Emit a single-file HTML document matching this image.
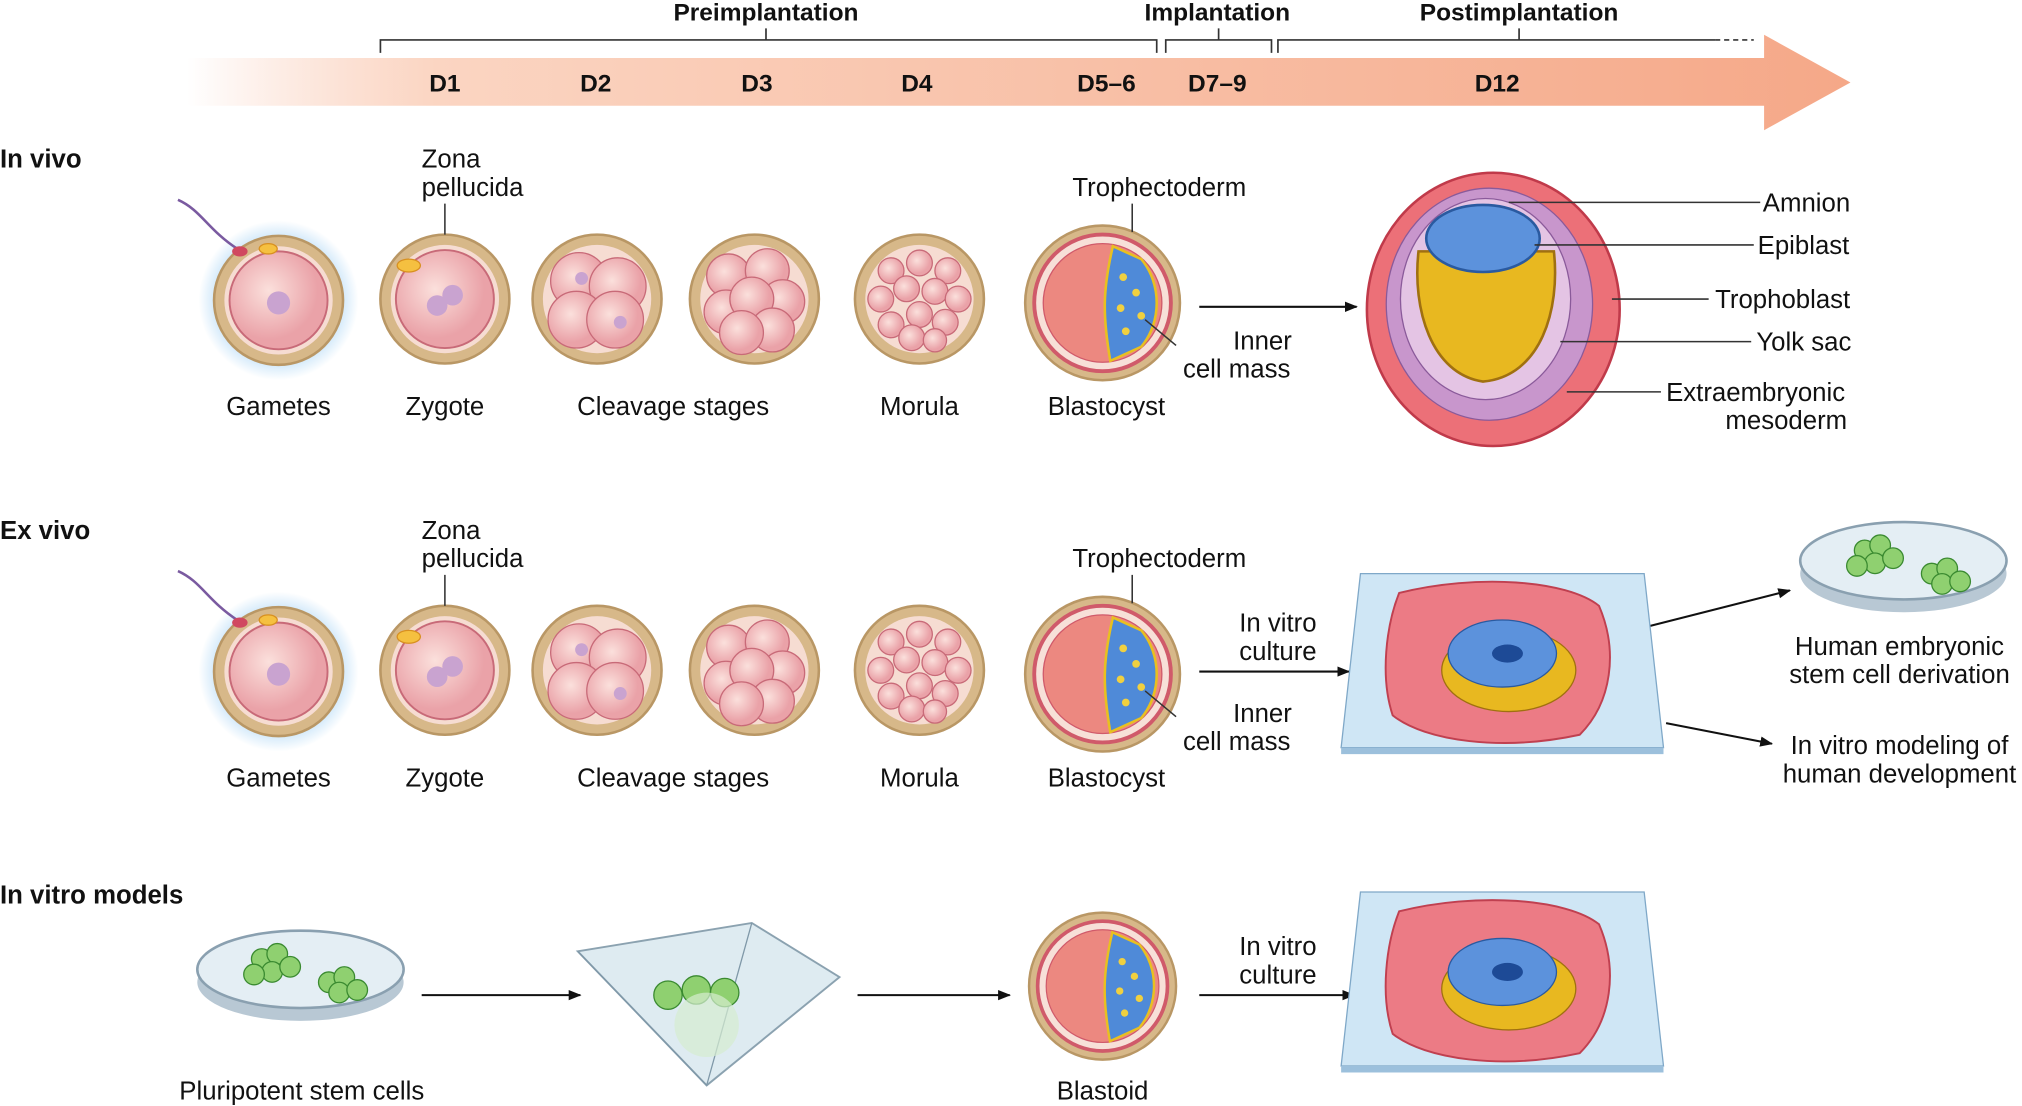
<!DOCTYPE html>
<html><head><meta charset="utf-8"><style>
html,body{margin:0;padding:0;background:#fff}
svg{display:block}
text{font-family:"Liberation Sans",sans-serif;fill:#111}
.b{font-weight:bold}
</style></head><body>
<svg width="2022" height="1106" viewBox="0 0 1568 858" preserveAspectRatio="none" xmlns="http://www.w3.org/2000/svg">
<defs>
<linearGradient id="ar" x1="0" x2="1">
<stop offset="0" stop-color="#f9c9b4" stop-opacity="0"/>
<stop offset="0.15" stop-color="#fbd5c2"/>
<stop offset="1" stop-color="#f5a888"/>
</linearGradient>
<radialGradient id="glow"><stop offset="0.6" stop-color="#a8d4f5"/><stop offset="1" stop-color="#a8d4f5" stop-opacity="0"/></radialGradient>
<radialGradient id="cell" cx="0.4" cy="0.4"><stop offset="0" stop-color="#fbe0dc"/><stop offset="1" stop-color="#eaa2a8"/></radialGradient>
<g id="zona"><circle r="50" fill="#d7b889" stroke="#b99765" stroke-width="2"/><circle r="42" fill="#f6dcd2"/></g>
<g id="gam"><circle r="62" fill="url(#glow)"/><use href="#zona"/><circle r="38" fill="url(#cell)" stroke="#c86a78" stroke-width="1.5"/><circle cx="0" cy="2" r="9" fill="#c9a3d0"/>
<path d="M-78 -78 C-60 -70 -55 -55 -32 -40" stroke="#7a5aa0" stroke-width="2" fill="none"/><ellipse cx="-30" cy="-38" rx="6" ry="4" fill="#d04860"/><ellipse cx="-8" cy="-40" rx="7" ry="4" fill="#f5c040" stroke="#d89020"/></g>
<g id="zyg"><use href="#zona"/><circle r="38" fill="url(#cell)" stroke="#c86a78" stroke-width="1.5"/><circle cx="-6" cy="5" r="8" fill="#c9a3d0"/><circle cx="6" cy="-3" r="8" fill="#c9a3d0"/><ellipse cx="-28" cy="-26" rx="9" ry="5" fill="#f5c040" stroke="#d89020"/></g>
<g id="clv1"><use href="#zona"/><circle cx="-14" cy="-14" r="22" fill="url(#cell)" stroke="#c86a78"/><circle cx="16" cy="-10" r="22" fill="url(#cell)" stroke="#c86a78"/><circle cx="-16" cy="16" r="22" fill="url(#cell)" stroke="#c86a78"/><circle cx="14" cy="16" r="22" fill="url(#cell)" stroke="#c86a78"/><circle cx="-12" cy="-16" r="5" fill="#c9a3d0"/><circle cx="18" cy="18" r="5" fill="#c9a3d0"/></g>
<g id="clv2"><use href="#zona"/><circle cx="-20" cy="-18" r="17" fill="url(#cell)" stroke="#c86a78"/><circle cx="10" cy="-22" r="17" fill="url(#cell)" stroke="#c86a78"/><circle cx="22" cy="2" r="17" fill="url(#cell)" stroke="#c86a78"/><circle cx="-22" cy="10" r="17" fill="url(#cell)" stroke="#c86a78"/><circle cx="-2" cy="0" r="17" fill="url(#cell)" stroke="#c86a78"/><circle cx="14" cy="24" r="17" fill="url(#cell)" stroke="#c86a78"/><circle cx="-10" cy="26" r="17" fill="url(#cell)" stroke="#c86a78"/></g>
<g id="mor"><use href="#zona"/>
<g fill="url(#cell)" stroke="#c86a78"><circle cx="-22" cy="-22" r="10"/><circle cx="0" cy="-28" r="10"/><circle cx="22" cy="-22" r="10"/><circle cx="-30" cy="0" r="10"/><circle cx="-10" cy="-8" r="10"/><circle cx="12" cy="-6" r="10"/><circle cx="30" cy="0" r="10"/><circle cx="-22" cy="20" r="10"/><circle cx="0" cy="12" r="10"/><circle cx="20" cy="18" r="10"/><circle cx="-6" cy="30" r="10"/><circle cx="12" cy="32" r="9"/></g></g>
<g id="bla"><circle r="60" fill="#d7b889" stroke="#b99765" stroke-width="2"/><circle r="53" fill="#f7e0d8" stroke="#d05a6a" stroke-width="3"/><circle r="46" fill="#ec8880" stroke="#d05a6a"/>
<path d="M8 -44 C0 -10 0 10 6 45 L30 34 C46 15 46 -15 30 -34 Z" fill="#4f8ad8" stroke="#e8c020" stroke-width="2"/>
<g fill="#f0d040"><circle cx="16" cy="-20" r="3"/><circle cx="26" cy="-8" r="3"/><circle cx="14" cy="4" r="3"/><circle cx="30" cy="10" r="3"/><circle cx="18" cy="22" r="3"/></g></g>
<g id="plate"><polygon points="-110,-70 110,-70 125,65 -125,65" fill="#cfe6f5" stroke="#7fa8c8"/><polygon points="-125,65 125,65 125,70 -125,70" fill="#9cc0dc"/>
<path d="M-80 -55 C-20 -70 50 -65 75 -45 C90 -10 85 30 60 55 C0 68 -60 60 -85 40 C-95 10 -90 -30 -80 -55Z" fill="#ec7b85" stroke="#c04050" stroke-width="1.5"/>
<ellipse cx="5" cy="5" rx="52" ry="32" fill="#e8b820" stroke="#a07010"/>
<ellipse cx="0" cy="-8" rx="42" ry="26" fill="#5c92dc" stroke="#2a5aa0"/><ellipse cx="4" cy="-8" rx="12" ry="7" fill="#1d4a96"/></g>
<g id="dish"><ellipse cx="0" cy="10" rx="80" ry="30" fill="#b8c8d4"/><ellipse cx="0" cy="0" rx="80" ry="30" fill="#e4eef4" stroke="#8aa0b0" stroke-width="2"/>
<g fill="#8fd070" stroke="#3a8a30"><circle cx="-30" cy="-8" r="8"/><circle cx="-18" cy="-12" r="8"/><circle cx="-22" cy="2" r="8"/><circle cx="-36" cy="4" r="8"/><circle cx="-8" cy="-2" r="8"/><circle cx="22" cy="10" r="8"/><circle cx="34" cy="6" r="8"/><circle cx="30" cy="18" r="8"/><circle cx="44" cy="16" r="8"/></g></g>
<marker id="ah" markerWidth="10" markerHeight="10" refX="9" refY="5" orient="auto" markerUnits="userSpaceOnUse"><path d="M0 1 L10 5 L0 9 Z" fill="#111"/></marker>
</defs>
<!-- timeline arrow -->
<polygon points="145,45 1368,45 1368,27 1435,64 1368,101 1368,82 145,82" fill="url(#ar)"/>
<g stroke="#333" stroke-width="1.3" fill="none">
<path d="M295 41 V31 H897 V41 M594 31 V22"/><path d="M904 41 V31 H986 V41 M945 31 V22"/><path d="M991 41 V31 H1330 M1178 31 V22"/><path d="M1330 31 H1360" stroke-dasharray="4 3"/></g>
<g class="b" font-size="19" text-anchor="middle"><text x="594" y="16" class="b">Preimplantation</text><text x="944" y="16" class="b">Implantation</text><text x="1178" y="16" class="b">Postimplantation</text>
<text x="345" y="71" class="b">D1</text><text x="462" y="71" class="b">D2</text><text x="587" y="71" class="b">D3</text><text x="711" y="71" class="b">D4</text><text x="858" y="71" class="b">D5–6</text><text x="944" y="71" class="b">D7–9</text><text x="1161" y="71" class="b">D12</text></g>
<g font-size="20"><text x="0" y="130" class="b">In vivo</text><text x="0" y="418" class="b">Ex vivo</text><text x="0" y="701" class="b">In vitro models</text></g>
<!-- row 1 -->
<use href="#gam" x="216" y="233"/><use href="#zyg" x="345" y="232"/><use href="#clv1" x="463" y="232"/><use href="#clv2" x="585" y="232"/><use href="#mor" x="713" y="232"/><use href="#bla" x="855" y="235"/>
<use href="#gam" x="216" y="521"/><use href="#zyg" x="345" y="520"/><use href="#clv1" x="463" y="520"/><use href="#clv2" x="585" y="520"/><use href="#mor" x="713" y="520"/><use href="#bla" x="855" y="523"/>
<g font-size="20" text-anchor="middle">
<text x="216" y="322">Gametes</text><text x="345" y="322">Zygote</text><text x="522" y="322">Cleavage stages</text><text x="713" y="322">Morula</text><text x="858" y="322">Blastocyst</text>
<text x="216" y="610">Gametes</text><text x="345" y="610">Zygote</text><text x="522" y="610">Cleavage stages</text><text x="713" y="610">Morula</text><text x="858" y="610">Blastocyst</text>
<text x="899" y="152">Trophectoderm</text><text x="899" y="440">Trophectoderm</text>
<text x="979" y="271">Inner</text><text x="959" y="293">cell mass</text><text x="979" y="560">Inner</text><text x="959" y="582">cell mass</text>
</g>
<g font-size="20"><text x="327" y="130">Zona</text><text x="327" y="152">pellucida</text><text x="327" y="418">Zona</text><text x="327" y="440">pellucida</text></g>
<g stroke="#333" stroke-width="1.2"><path d="M345 158 V182 M345 446 V470 M878 158 V180 M878 446 V468 M888 248 L912 268 M888 536 L912 556"/></g>
<!-- postimplantation embryo -->
<ellipse cx="1158" cy="240" rx="98" ry="106" fill="#ec7078" stroke="#c03a4a" stroke-width="2"/>
<ellipse cx="1155" cy="236" rx="80" ry="90" fill="#c896cc" stroke="#8a5a9a"/>
<ellipse cx="1152" cy="232" rx="66" ry="78" fill="#e4c4e4" stroke="#8a5a9a"/>
<path d="M1100 195 C1095 240 1110 290 1150 296 C1195 292 1210 240 1205 195 Z" fill="#e8b820" stroke="#a07010" stroke-width="2"/>
<ellipse cx="1150" cy="185" rx="44" ry="26" fill="#5c92dc" stroke="#2a5aa0" stroke-width="2"/>
<g stroke="#333" stroke-width="1.2"><path d="M1170 157 H1365 M1190 190 H1360 M1250 232 H1325 M1210 265 H1358 M1215 304 H1288"/></g>
<g font-size="20"><text x="1367" y="164">Amnion</text><text x="1363" y="197">Epiblast</text><text x="1330" y="239">Trophoblast</text><text x="1362" y="272">Yolk sac</text><text x="1292" y="311">Extraembryonic</text><text x="1338" y="333">mesoderm</text></g>
<g stroke="#111" stroke-width="1.6" marker-end="url(#ah)"><path d="M930 238 H1052"/><path d="M930 521 H1046"/><path d="M1274 487 L1388 458"/><path d="M1292 561 L1374 577"/><path d="M327 772 H450"/><path d="M665 772 H783"/><path d="M930 772 H1050"/></g>
<!-- ex vivo -->
<use href="#plate" x="1165" y="515"/>
<use href="#dish" x="1476" y="435"/>
<g font-size="20" text-anchor="middle"><text x="991" y="490">In vitro</text><text x="991" y="512">culture</text>
<text x="1473" y="508">Human embryonic</text><text x="1473" y="530">stem cell derivation</text>
<text x="1473" y="585">In vitro modeling of</text><text x="1473" y="607">human development</text>
<text x="991" y="741">In vitro</text><text x="991" y="763">culture</text>
<text x="234" y="853">Pluripotent stem cells</text><text x="855" y="853">Blastoid</text></g>
<!-- in vitro models -->
<use href="#dish" x="233" y="752"/>
<polygon points="448,738 583,716 651,758 548,842" fill="#dbe9f0" stroke="#7f98a8" stroke-width="1.5" opacity="0.9"/>
<path d="M448 738 L548 842 M583 716 L548 842" stroke="#7f98a8" fill="none"/>
<g fill="#8fd070" stroke="#3a8a30"><circle cx="518" cy="772" r="11"/><circle cx="540" cy="768" r="11"/><circle cx="562" cy="770" r="11"/></g>
<circle cx="548" cy="795" r="25" fill="#d6ecd0" opacity="0.7"/>
<use href="#bla" x="855" y="765" transform="translate(855 765) scale(0.95) translate(-855 -765)"/>
<use href="#plate" x="1165" y="762"/>
</svg>
</body></html>
